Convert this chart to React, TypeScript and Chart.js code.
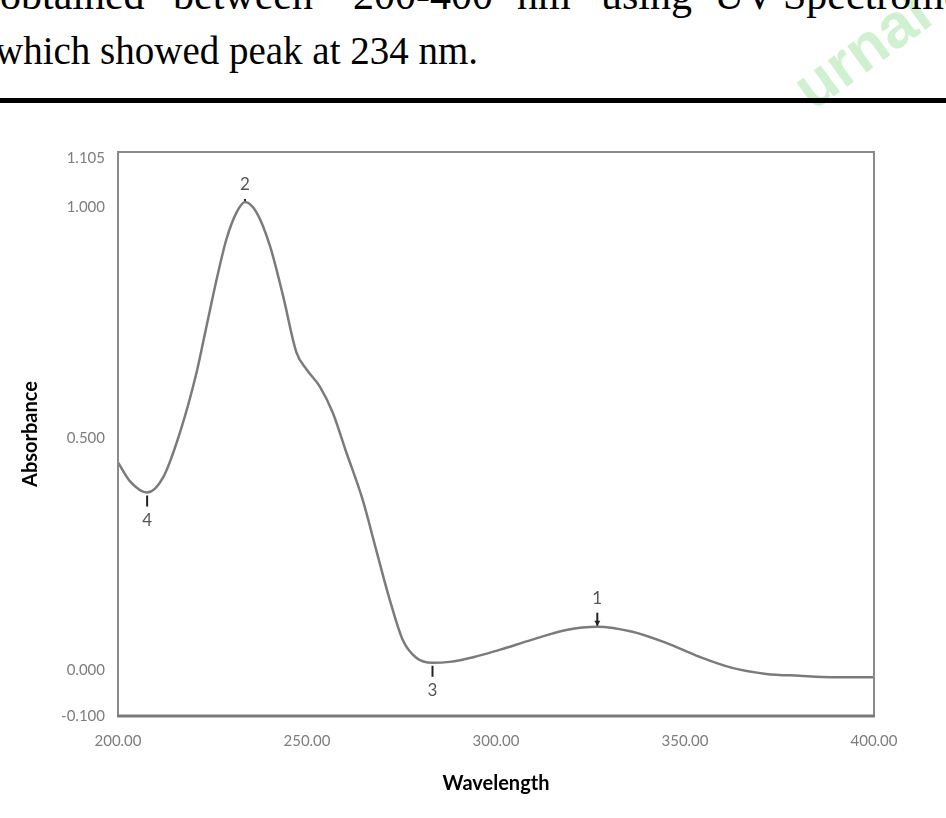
import React, { useEffect, useRef } from "react";
import { Chart, registerables } from "chart.js";

Chart.register(...registerables);

// Spectrum (wavelength in nm, absorbance)
const wavelengths = [
  200, 203.2, 207.7, 211.9, 216.4, 220.8, 223.4, 226.1, 228.7, 231.4, 233.6,
  236.6, 240.2, 243.7, 247.2, 249.9, 253.4, 256.8, 260.4, 264.7, 268.3, 271.9,
  275.3, 278.9, 283.2, 287.7, 294.0, 300.9, 309.6, 318.6, 326.8, 336.1, 345.0,
  353.8, 362.5, 371.5, 380.2, 389.0, 400,
];
const absorbance = [
  0.448, 0.407, 0.383, 0.415, 0.513, 0.643, 0.742, 0.844, 0.931, 0.989, 1.011,
  0.989, 0.916, 0.807, 0.686, 0.649, 0.612, 0.556, 0.47, 0.368, 0.259, 0.151,
  0.065, 0.026, 0.015, 0.017, 0.027, 0.043, 0.065, 0.086, 0.093, 0.082, 0.058,
  0.028, 0.004, -0.009, -0.013, -0.016, -0.016,
];

// Axis ticks
const xTicks = [200, 250, 300, 350, 400];
const yTicks = [-0.1, 0, 0.5, 1.0, 1.105];

// Peak / valley markers
const peakNumbers = ["1", "2", "3", "4"];
const peakWavelengths = [326.8, 233.6, 283.2, 207.7];
const peakAbsorbance = [0.093, 1.011, 0.015, 0.383];
const peakSides = ["above", "above", "below", "below"];

const headerWords = ["obtained", "between", "200-400", "nm", "using", "UV", "Spectrometer"];
const headerLine2 = "which showed peak at 234 nm.";

export default function App() {
  const ref = useRef<HTMLCanvasElement | null>(null);

  useEffect(() => {
    const frame = {
      id: "frame",
      afterDatasetsDraw(chart: any) {
        const { ctx, chartArea: a } = chart;
        ctx.save();
        ctx.strokeStyle = "#8a8a8a";
        ctx.lineWidth = 2;
        ctx.beginPath();
        ctx.moveTo(a.left, a.bottom);
        ctx.lineTo(a.left, a.top);
        ctx.lineTo(a.right, a.top);
        ctx.lineTo(a.right, a.bottom);
        ctx.stroke();
        ctx.strokeStyle = "#7a7a7a";
        ctx.lineWidth = 3;
        ctx.beginPath();
        ctx.moveTo(a.left - 1, a.bottom);
        ctx.lineTo(a.right + 1, a.bottom);
        ctx.stroke();
        ctx.restore();
      },
    };

    const marks = {
      id: "marks",
      afterDatasetsDraw(chart: any) {
        const { ctx } = chart;
        const xs = chart.scales.x;
        const ys = chart.scales.y;
        ctx.save();
        ctx.font = "17px Lato";
        ctx.fillStyle = "#555";
        ctx.textAlign = "center";
        ctx.textBaseline = "middle";
        ctx.strokeStyle = "#222";
        ctx.lineWidth = 2;
        peakNumbers.forEach((lab, i) => {
          const px = xs.getPixelForValue(peakWavelengths[i]);
          const py = ys.getPixelForValue(peakAbsorbance[i]);
          if (peakSides[i] === "above") {
            const tick = i === 0 ? 13 : 2;
            ctx.beginPath();
            ctx.moveTo(px, py - 1);
            ctx.lineTo(px, py - 1 - tick);
            ctx.stroke();
            if (i === 0) {
              ctx.beginPath();
              ctx.fillStyle = "#222";
              ctx.moveTo(px - 3, py - 6);
              ctx.lineTo(px + 3, py - 6);
              ctx.lineTo(px, py - 1);
              ctx.closePath();
              ctx.fill();
              ctx.fillStyle = "#555";
            }
            ctx.fillText(lab, px, py - tick - 15);
          } else {
            ctx.beginPath();
            ctx.moveTo(px, py + 3);
            ctx.lineTo(px, py + 14);
            ctx.stroke();
            ctx.fillText(lab, px, py + 28);
          }
        });
        ctx.restore();
      },
    };

    const chart = new Chart(ref.current as HTMLCanvasElement, {
      type: "line",
      data: {
        datasets: [
          {
            data: wavelengths.map((w, i) => ({ x: w, y: absorbance[i] })),
            borderColor: "#7b7b7b",
            borderWidth: 2.5,
            pointRadius: 0,
            fill: false,
            cubicInterpolationMode: "monotone",
          },
        ],
      },
      options: {
        responsive: false,
        animation: false,
        layout: { padding: { left: 0, top: 152, right: 72, bottom: 0 } },
        plugins: { legend: { display: false }, tooltip: { enabled: false } },
        scales: {
          x: {
            type: "linear",
            min: 200,
            max: 400,
            afterBuildTicks: (s: any) => {
              s.ticks = xTicks.map((v) => ({ value: v }));
            },
            afterFit: (s: any) => {
              s.height = 102;
            },
            grid: { display: false, drawTicks: false },
            border: { display: false },
            ticks: {
              padding: 16,
              color: "#7d7d7d",
              autoSkip: false,
              maxRotation: 0,
              font: { family: "Lato", size: 15 },
              callback: (v: any) => Number(v).toFixed(2),
            },
            title: {
              display: true,
              text: "Wavelength",
              color: "#000",
              font: { family: "Lato", size: 20, weight: "bold" },
              padding: { top: 0, bottom: 22 },
            },
          },
          y: {
            type: "linear",
            min: -0.1,
            max: 1.119,
            afterBuildTicks: (s: any) => {
              s.ticks = yTicks.map((v) => ({ value: v }));
            },
            afterFit: (s: any) => {
              s.width = 118;
            },
            grid: { display: false, drawTicks: false },
            border: { display: false },
            ticks: {
              padding: 13,
              color: "#7d7d7d",
              autoSkip: false,
              font: { family: "Lato", size: 15 },
              callback: (v: any) => Number(v).toFixed(3),
            },
            title: {
              display: true,
              text: "Absorbance",
              color: "#000",
              font: { family: "Lato", size: 20, weight: "bold" },
              padding: { top: 19, bottom: 0 },
            },
          },
        },
      },
      plugins: [frame, marks],
    } as any);

    return () => chart.destroy();
  }, []);

  const wordLefts = [0, 173, 353, 517, 601, 714, 783];

  return (
    <div
      style={{
        position: "absolute",
        left: 0,
        top: 0,
        width: 946,
        height: 818,
        overflow: "hidden",
        background: "#fff",
      }}
    >
      <div
        style={{
          position: "absolute",
          left: 786,
          top: 14,
          transform: "rotate(-36deg)",
          fontFamily: "'Liberation Sans', Arial, sans-serif",
          fontWeight: "bold",
          fontSize: 62,
          lineHeight: "72px",
          color: "rgba(110, 210, 110, 0.32)",
          whiteSpace: "nowrap",
        }}
      >
        urnal
      </div>
      {headerWords.map((w, i) => (
        <div
          key={w}
          style={{
            position: "absolute",
            left: wordLefts[i],
            top: -28,
            fontFamily: "'Liberation Serif', 'Times New Roman', serif",
            fontSize: 42,
            lineHeight: "47px",
            color: "#000",
            whiteSpace: "nowrap",
          }}
        >
          {w}
        </div>
      ))}
      <div
        style={{
          position: "absolute",
          left: -5,
          top: 27,
          fontFamily: "'Liberation Serif', 'Times New Roman', serif",
          fontSize: 39,
          lineHeight: "47px",
          color: "#000",
          whiteSpace: "nowrap",
        }}
      >
        {headerLine2}
      </div>
      <div
        style={{
          position: "absolute",
          left: 0,
          top: 98,
          width: 946,
          height: 5,
          background: "#000",
        }}
      />
      <canvas
        ref={ref}
        width={946}
        height={818}
        style={{ position: "absolute", left: 0, top: 0, display: "block" }}
      />
    </div>
  );
}
